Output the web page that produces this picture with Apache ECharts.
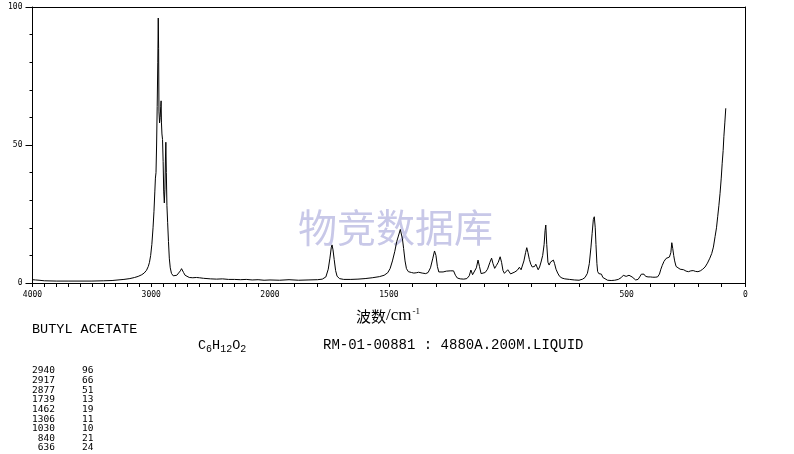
<!DOCTYPE html>
<html>
<head>
<meta charset="utf-8">
<script src="https://cdn.jsdelivr.net/npm/echarts@6/dist/echarts.min.js"></script>
<style>
html,body{margin:0;padding:0;background:#fff;}
#chart{width:794px;height:454px;}
</style>
</head>
<body>
<div id="chart"></div>
<script>
// ---- data (wavenumber cm-1, relative intensity) ----
const highRange = [
[4000,1.2],[3990,1.4],[3975,1.1],[3960,1.4],[3945,1.0],[3900,0.8],[3800,0.7],[3700,0.7],[3600,0.7],[3500,0.7],
[3400,0.8],[3330,0.9],[3280,1.1],[3230,1.3],[3180,1.6],[3140,2.0],[3110,2.4],[3080,3.0],[3060,3.6],[3040,4.6],
[3025,6.0],[3015,7.5],[3005,10],[2995,14],[2985,20],[2977,26],[2970,33],[2965,38],[2960,40],[2955,50],
[2950,64],[2945,80],[2941,96],[2938,85],[2935,62],[2930,58],[2925,60],[2920,64],[2917,66],[2914,58],
[2910,54],[2905,52],[2900,44],[2895,33],[2890,29],[2885,34],[2880,46],[2877,51],[2873,40],[2868,28],
[2862,22],[2855,15],[2848,9],[2840,5.5],[2830,3.5],[2815,2.6],[2800,2.5],[2785,2.8],[2770,3.4],[2755,4.4],
[2745,5.2],[2738,5.0],[2728,3.8],[2715,2.8],[2700,2.3],[2680,2.0],[2650,1.9],[2620,2.0],[2607,2.3],[2595,1.9],
[2560,1.7],[2500,1.5],[2450,1.4],[2400,1.5],[2350,1.3],[2300,1.3],[2250,1.2],[2200,1.3],[2150,1.1],[2100,1.2],
[2050,1.0],[2000,1.1]
];
const lowRange = [
[2000,1.1],[1960,1.0],[1920,1.2],[1880,1.0],[1840,1.1],[1800,1.2],[1780,1.4],[1765,2.2],[1755,5],[1748,9],
[1742,13],[1739,13.8],[1735,12],[1730,8.5],[1724,4.5],[1718,2.5],[1708,1.6],[1690,1.3],[1660,1.3],[1630,1.4],
[1600,1.6],[1570,1.9],[1540,2.3],[1520,2.8],[1505,3.7],[1495,5.2],[1485,8],[1475,11.5],[1467,15],[1460,17],
[1452,19.4],[1448,19],[1443,16],[1438,12.5],[1432,8],[1426,5.2],[1418,4.1],[1405,3.8],[1395,3.6],[1385,3.7],
[1375,3.9],[1368,4.2],[1360,3.6],[1345,3.4],[1335,3.8],[1325,5.5],[1315,9],[1308,11.6],[1302,10],[1296,6],
[1290,4],[1282,3.5],[1272,4.0],[1265,4.7],[1258,4.3],[1250,4.2],[1242,4.4],[1234,4.9],[1228,4.4],[1220,2.8],
[1212,1.8],[1200,1.5],[1185,1.4],[1172,1.6],[1162,2.6],[1155,4.7],[1148,3.0],[1140,3.2],[1132,5.5],[1125,8.3],
[1119,6],[1112,3.4],[1105,3.2],[1095,3.8],[1085,5],[1075,7.5],[1068,9],[1062,7],[1055,5.3],[1048,6.3],
[1040,7.5],[1032,9.5],[1026,7.5],[1020,4.5],[1014,3.5],[1008,3.8],[1000,4.8],[994,4.2],[988,3.3],[980,3.4],
[970,4.0],[960,4.6],[951,5.7],[944,4.8],[938,5.5],[932,8],[925,11],[920,12.8],[915,11],[909,8.5],
[903,6.8],[897,5.8],[892,5.3],[887,6],[882,6.8],[877,5.8],[872,4.8],[866,5.8],[860,7.6],[853,10],
[847,14],[843,19],[840,21],[836,14],[831,7.5],[826,6.5],[820,7.6],[815,7.8],[808,8.3],[803,7],
[797,5],[790,3.6],[782,2.4],[772,1.8],[760,1.5],[740,1.3],[720,1.1],[700,1.0],[685,1.4],[675,2.0],
[665,3.5],[657,7],[650,13],[645,18],[640,23],[636,24],[632,20],[629,14],[625,7],[622,4.2],
[617,3.4],[612,3.6],[606,3.2],[600,2.0],[592,1.3],[580,1.0],[565,0.9],[550,1.0],[535,1.3],[522,2.0],
[514,2.8],[508,2.9],[502,2.4],[496,2.2],[490,2.8],[484,2.9],[477,2.2],[470,1.5],[462,1.1],[452,1.3],
[445,2.2],[438,3.2],[433,3.7],[427,3.2],[420,2.4],[410,2.2],[400,2.2],[390,2.1],[380,2.1],[370,2.2],
[362,3.2],[356,5],[350,6.4],[343,7.8],[334,8.9],[326,9.2],[320,9.4],[314,11],[310,14.6],[306,12.5],
[302,10],[298,8],[292,6],[285,5.3],[275,5],[268,4.7],[260,4.8],[250,4.3],[240,4.1],[230,4.4],
[220,4.5],[210,4.2],[200,4.1],[190,4.4],[180,5],[170,5.8],[160,7.2],[150,9],[142,10.7],[135,13],
[128,16.8],[122,20],[117,24],[112,28],[107,32.5],[102,38],[98,43.4],[94,48],[91,53],[87,58],[83,63.3]
];
const lowAxisLabels = [1500, 500, 0];           // labelled ticks on the 2000-0 part
const peakWavenumbers = ['2940','2917','2877','1739','1462','1306','1030','840','636'];
const peakIntensities = ['96','66','51','13','19','11','10','21','24'];
const compoundName = 'BUTYL ACETATE';
const recordText = 'RM-01-00881 : 4880A.200M.LIQUID';
const watermark = '物竞数据库';

const chart = echarts.init(document.getElementById('chart'), null, {renderer:'canvas'});
const black = '#000';
const tickFont = 'DejaVu Sans Mono';

function bottomAxis(grid, min, max, interval, split, formatter){
  return {
    gridIndex: grid, type:'value', min:min, max:max, interval:interval, inverse:true, position:'bottom',
    axisLine:{show:true, onZero:false, lineStyle:{color:black, width:1}},
    axisTick:{show:true, inside:false, length:4, lineStyle:{color:black, width:1}},
    minorTick:{show:true, splitNumber:split, length:4, lineStyle:{color:black, width:1}},
    axisLabel:{show:true, color:black, fontFamily:tickFont, fontSize:8, margin:8, formatter:formatter},
    splitLine:{show:false}, minorSplitLine:{show:false}
  };
}
function frameAxis(grid, min, max, pos){
  return {
    gridIndex: grid, type:'value', min:min, max:max, inverse:true, position:pos,
    axisLine:{show:true, onZero:false, lineStyle:{color:black, width:1}},
    axisTick:{show:false}, axisLabel:{show:false}, splitLine:{show:false}
  };
}

const option = {
  animation:false,
  backgroundColor:'#fff',
  grid:[
    {left:32.5, top:7, width:237.5, height:276},
    {left:270, top:7, width:475.5, height:276}
  ],
  xAxis:[
    bottomAxis(0, 2000, 4000, 1000, 10, v => String(v)),
    bottomAxis(1, 0, 2000, 500, 5, v => lowAxisLabels.indexOf(v) >= 0 ? String(v) : ''),
    frameAxis(0, 2000, 4000, 'top'),
    frameAxis(1, 0, 2000, 'top')
  ],
  yAxis:[
    {
      gridIndex:0, type:'value', min:0, max:100, interval:50, position:'left',
      axisLine:{show:true, onZero:false, lineStyle:{color:black, width:1}},
      axisTick:{show:true, inside:false, length:7, lineStyle:{color:black, width:1}},
      minorTick:{show:true, splitNumber:5, length:3, lineStyle:{color:black, width:1}},
      axisLabel:{show:true, color:black, fontFamily:tickFont, fontSize:8, margin:10},
      splitLine:{show:false}, minorSplitLine:{show:false}
    },
    {
      gridIndex:1, type:'value', min:0, max:100, position:'right',
      axisLine:{show:true, onZero:false, lineStyle:{color:black, width:1}},
      axisTick:{show:false}, axisLabel:{show:false}, splitLine:{show:false}
    }
  ],
  title:{
    text:'{a|波数}{b|/cm}{c|-1}',
    left:351, top:302,
    textStyle:{
      fontWeight:'normal',
      rich:{
        a:{fontFamily:'Noto Sans CJK SC', fontSize:15, fontWeight:'normal', color:black, verticalAlign:'bottom'},
        b:{fontFamily:'Liberation Serif', fontSize:17, fontWeight:'normal', color:black, verticalAlign:'bottom'},
        c:{fontFamily:'Liberation Serif', fontSize:9, fontWeight:'normal', color:black, verticalAlign:'top', padding:[0,0,0,1]}
      }
    }
  },
  graphic:[
    {type:'text', left:298, top:208, z:0, silent:true,
      style:{text:watermark, font:'39px "Noto Sans CJK SC"', fill:'#c8c8e8'}},
    {type:'text', left:32, top:322,
      style:{text:compoundName, font:'13.5px "Liberation Mono"', fill:black}},
    {type:'text', left:323, top:338,
      style:{text:recordText, font:'14px "Liberation Mono"', fill:black}},
    {type:'text', left:198, top:338,
      style:{text:'{a|C}{s|6}{a|H}{s|12}{a|O}{s|2}',
        rich:{
          a:{fontFamily:'Liberation Mono', fontSize:13.5, fill:black, verticalAlign:'top'},
          s:{fontFamily:'Liberation Mono', fontSize:10, fill:black, verticalAlign:'bottom', padding:[6,0,0,0]}
        }}},
    {type:'text', x:55, y:366,
      style:{text:peakWavenumbers.join('\n'), font:'9.5px "DejaVu Sans Mono"', fill:black, textAlign:'right', lineHeight:9.65}},
    {type:'text', x:82, y:366,
      style:{text:peakIntensities.join('\n'), font:'9.5px "DejaVu Sans Mono"', fill:black, textAlign:'left', lineHeight:9.65}}
  ],
  series:[
    {type:'line', xAxisIndex:0, yAxisIndex:0, data:highRange, showSymbol:false, z:5,
      lineStyle:{color:black, width:1}, itemStyle:{color:black}},
    {type:'line', xAxisIndex:1, yAxisIndex:1, data:lowRange, showSymbol:false, z:5,
      lineStyle:{color:black, width:1}, itemStyle:{color:black}}
  ]
};
chart.setOption(option);
</script>
</body>
</html>
